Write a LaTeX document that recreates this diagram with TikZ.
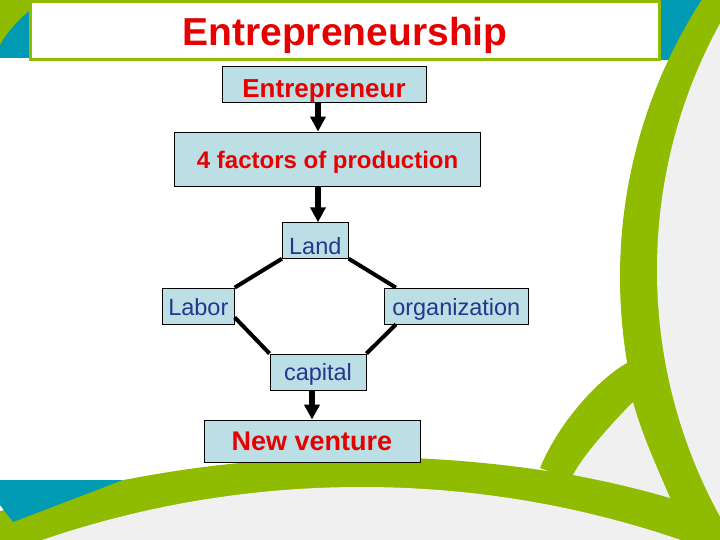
\documentclass[tikz,border=0pt]{standalone}
\usepackage{fontspec}
\setmainfont{Liberation Sans}
\usepackage{xcolor}
\usepackage{tikz}
\usetikzlibrary{arrows.meta}
\definecolor{leaf}{RGB}{143,188,0}
\definecolor{sea}{RGB}{0,155,178}
\definecolor{mist}{RGB}{240,240,240}
\definecolor{boxblue}{RGB}{188,223,230}
\definecolor{titlered}{RGB}{230,0,0}
\definecolor{textblue}{RGB}{35,55,140}

\begin{document}
\begin{tikzpicture}[x=1pt,y=-1pt,
                    factor/.style={draw=black, line width=0.8pt, fill=boxblue, inner sep=0pt,
                                   text height=16.8pt, text depth=0pt,
                                   text=textblue, font=\fontsize{23.5}{24}\selectfont},
                    redbox/.style={factor, text=titlered},
                    bigarrow/.style={line width=6pt, black, -{Triangle[width=15pt,length=15pt]}},
                    link/.style={line width=4pt, black},
                   ]

\useasboundingbox (0,0) rectangle (720,540);
\clip (0,0) rectangle (720,540);
\fill[white] (0,0) rectangle (720,540);

% corners
\fill[sea] (0,0) rectangle (30,58);
\fill[leaf] (0,0) -- (30,0) -- (30,10) .. controls (18,20) and (6,33) .. (0,45) -- cycle;
\fill[sea] (660,0) rectangle (720,60);

% green bands
\fill[leaf] (1130,277) circle (510);
\fill[leaf] (361.4,1682.6) circle (1225.6);
\fill[leaf] (627,363) .. controls (600,378) and (560,420) .. (540,468) -- (600,490) -- (660,480) -- (650,360) -- cycle;
\fill[sea] (0,480) -- (123,480) -- (13,522) -- (0,505) -- cycle;

\fill[mist] (1170,270) circle (513);
\fill[mist] (361.5,1470.2) circle (983.2);
\fill[mist] (633,402) .. controls (620,415) and (585,452) .. (573,475)
  .. controls (605,481) and (640,489) .. (670,498)
  .. controls (656,465) and (642,435) .. (633,402) -- cycle;

\node[draw=leaf, line width=3pt, fill=white, inner sep=0pt, minimum width=629pt, minimum height=58pt,
      text height=30.3pt, text depth=0pt, text=titlered, font=\fontsize{39}{40}\selectfont\bfseries]
      (title) at (345,30.5) {Entrepreneurship};

\node[redbox, minimum width=204pt, minimum height=36pt, text height=27.2pt,
      font=\fontsize{26}{27}\selectfont\bfseries] (entr) at (324,84) {Entrepreneur};
\node[redbox, minimum width=306pt, minimum height=54pt, text height=19.2pt,
      font=\fontsize{24}{25}\selectfont\bfseries] (factors) at (327.6,159) {4 factors of production};
\node[factor, minimum width=66pt, minimum height=35.6pt, text height=28.8pt] (land) at (315.3,240.5) {Land};
\node[factor, minimum width=72pt, minimum height=36pt, text height=18.8pt] (labor) at (198.3,306) {Labor};
\node[factor, minimum width=144pt, minimum height=36pt, text height=18.8pt] (org) at (456.3,306) {organization};
\node[factor, minimum width=96pt, minimum height=36pt] (capital) at (318,372) {capital};
\node[redbox, minimum width=216pt, minimum height=42pt, text height=19.3pt,
      font=\fontsize{27}{28}\selectfont\bfseries] (venture) at (312,441) {New venture};

\coordinate (axis) at (318,0);

\draw[bigarrow] (entr.south -| axis) -- (factors.north -| axis);
\draw[bigarrow] (factors.south -| axis) -- (land.north -| axis);
\draw[bigarrow] (capital.south -| venture.north) -- (venture.north);

\draw[link] (land.south west) -- (labor.north east);
\draw[link] (land.south east) -- ([xshift=12pt]org.north west);
\draw[link] ([yshift=7pt]labor.south east) -- (capital.north west);
\draw[link] ([xshift=12pt]org.south west) -- (capital.north east);

\end{tikzpicture}
\end{document}
